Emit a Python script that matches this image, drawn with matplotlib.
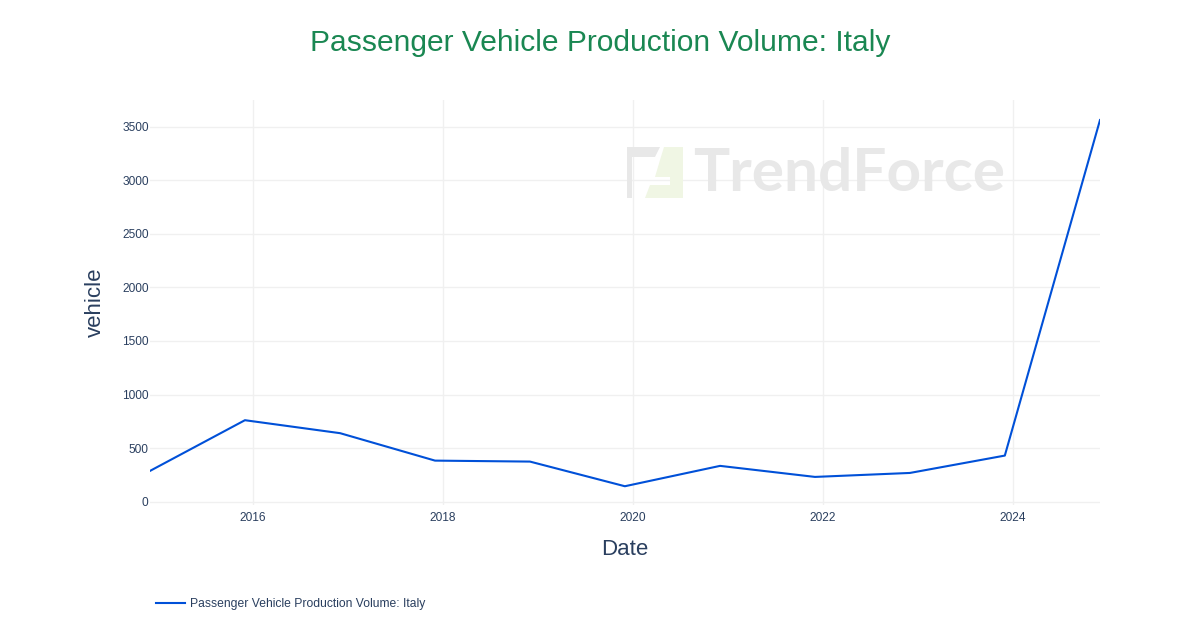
import matplotlib
matplotlib.use("Agg")
import matplotlib.pyplot as plt
import matplotlib.dates as mdates
import numpy as np
import pandas as pd
from matplotlib.patches import Polygon

plt.rcParams['font.family'] = ['Liberation Sans', 'DejaVu Sans']

dates = pd.to_datetime(["2014-12-01", "2015-12-01", "2016-12-01", "2017-12-01", "2018-12-01",
                        "2019-12-01", "2020-12-01", "2021-12-01", "2022-12-01", "2023-12-01",
                        "2024-12-01"])
values = [288, 761, 640, 384, 375, 145, 335, 232, 269, 431, 3561]
y_ticks = [0, 500, 1000, 1500, 2000, 2500, 3000, 3500]
x_tick_years = [2016, 2018, 2020, 2022, 2024]

title = "Passenger Vehicle Production Volume: Italy"
series_name = "Passenger Vehicle Production Volume: Italy"

fig = plt.figure(figsize=(12, 6.3), dpi=100)
ax = fig.add_axes([150/1200, 125/630, 950/1200, 405/630])

tick_color = '#2a3f5f'
grid_color = '#f0f0f0'

# watermark
fig.text(693/1200, 1 - 174/630, "TrendForce", fontsize=43.5, fontweight='bold',
         color='#e8e8e8', ha='left', va='center', zorder=0, family=['Lato', 'DejaVu Sans'])
logo_grey = Polygon([[627/1200, 1-147/630], [660/1200, 1-147/630], [655/1200, 1-157/630],
                     [632/1200, 1-157/630], [632/1200, 1-198/630], [627/1200, 1-198/630]],
                    closed=True, transform=fig.transFigure, facecolor='#e8e8e8', edgecolor='none', zorder=0)
logo_green = Polygon([[664/1200, 1-147/630], [683/1200, 1-147/630], [683/1200, 1-198/630],
                      [645/1200, 1-198/630], [650/1200, 1-185/630], [670/1200, 1-185/630],
                      [670/1200, 1-177/630], [655/1200, 1-177/630], [660/1200, 1-160/630]],
                     closed=True, transform=fig.transFigure, facecolor='#f0f6e4', edgecolor='none', zorder=0)
fig.patches.extend([logo_grey, logo_green])
ax.set_facecolor('none')

ax.plot(dates, values, color='#0050d8', linewidth=1.5, label=series_name, zorder=3)

ax.set_xlim(dates[0], dates[-1])
ax.set_ylim(-30, 3748)
ax.set_yticks(y_ticks)
ax.set_yticklabels([str(v) for v in y_ticks])
ax.set_xticks([pd.Timestamp(f"{y}-01-01") for y in x_tick_years])
ax.set_xticklabels([str(y) for y in x_tick_years])

ax.grid(True, color=grid_color, linewidth=1)
ax.set_axisbelow(True)
for s in ax.spines.values():
    s.set_visible(False)
ax.tick_params(axis='both', length=0, labelsize=8.6, colors=tick_color)
ax.tick_params(axis='x', pad=5)
ax.tick_params(axis='y', pad=1)

ax.set_xlabel("Date", fontsize=16, color=tick_color, labelpad=11)
ax.set_ylabel("vehicle", fontsize=16, color=tick_color, labelpad=12)

fig.text(0.5, 1 - 43/630, title, fontsize=21.6, color='#1a8752', ha='center', va='center')

leg = fig.legend(loc='center left', bbox_to_anchor=(145/1200, 1 - 604/630), frameon=False,
                 fontsize=8.7, handlelength=2.4, handletextpad=0.45)
for t in leg.get_texts():
    t.set_color(tick_color)

fig.savefig("out.png", dpi=100, facecolor='white')
